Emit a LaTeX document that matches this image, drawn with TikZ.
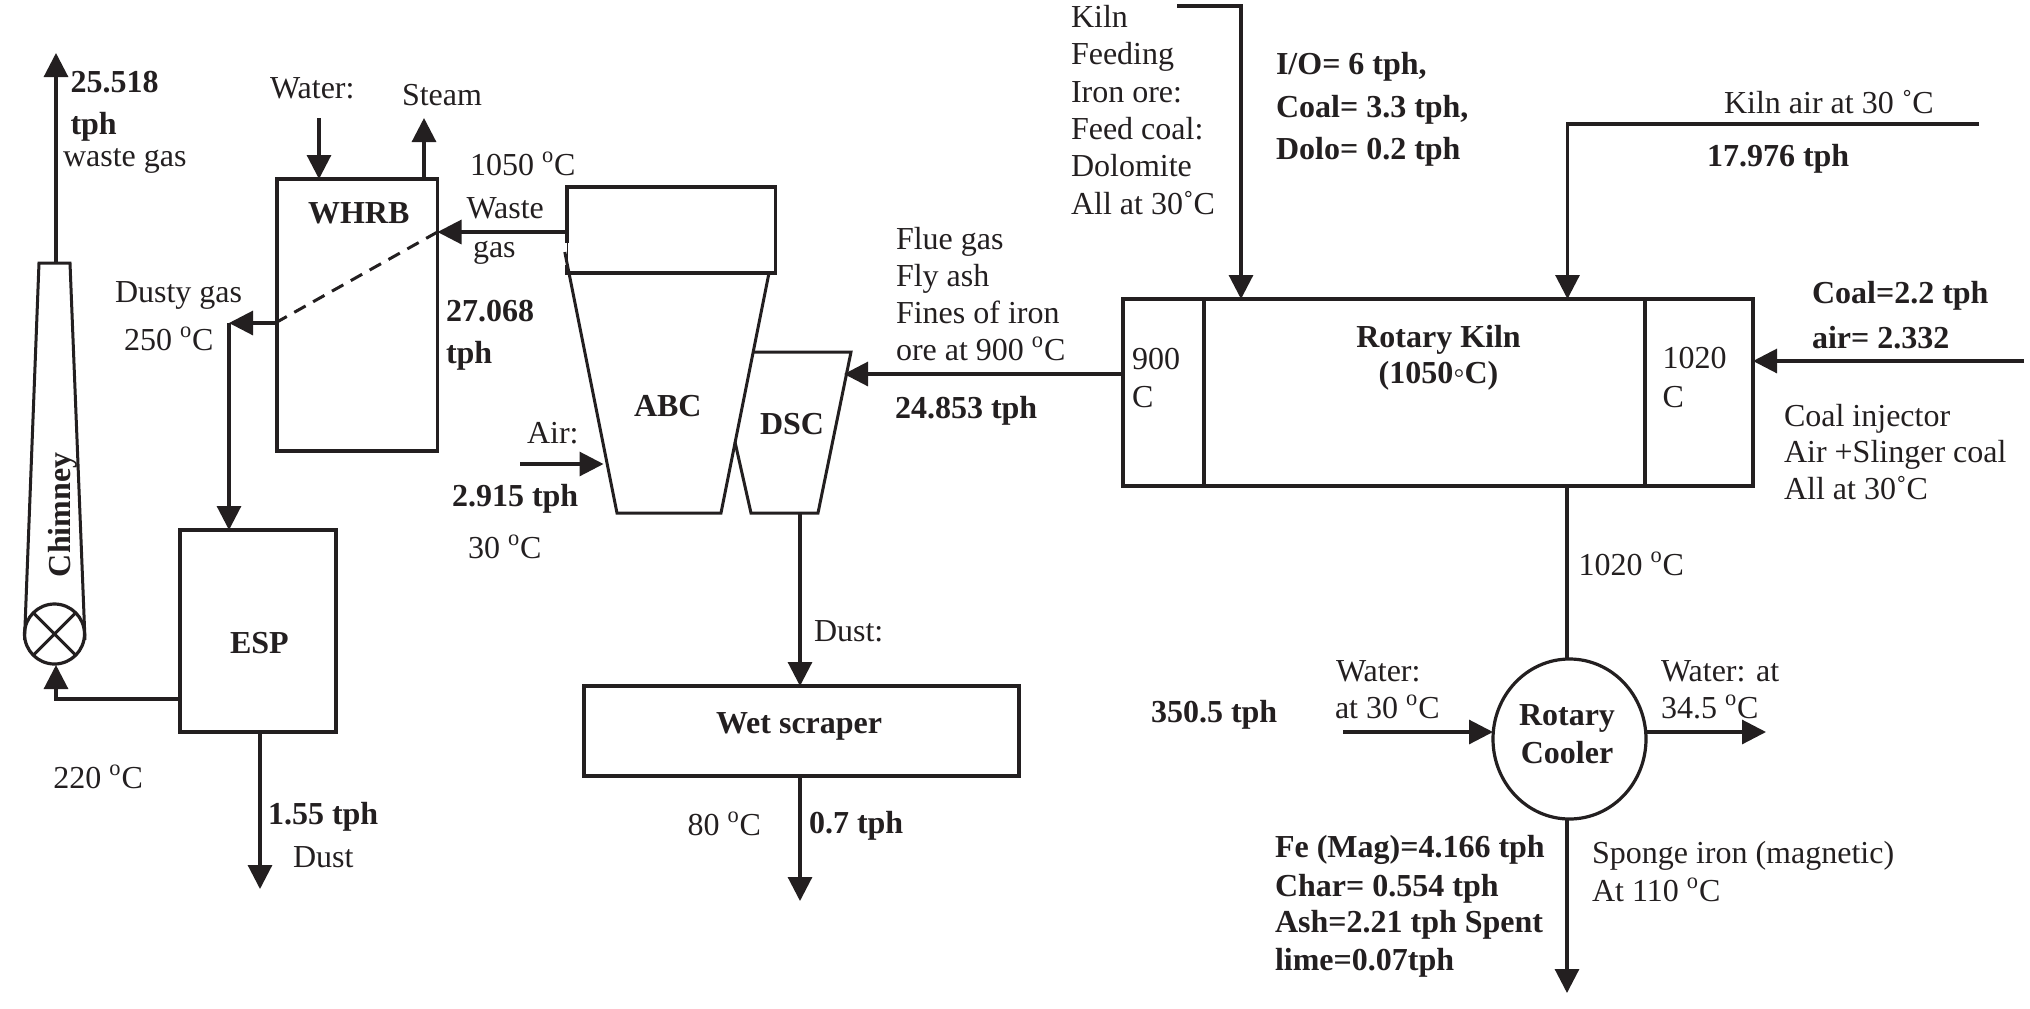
\documentclass[tikz,border=0pt]{standalone}
\usepackage{fontspec}
\setmainfont{Liberation Serif}
\usetikzlibrary{arrows.meta,shapes.geometric,calc}
\definecolor{ink}{HTML}{231F20}
\newcommand{\dg}{\textsuperscript{o}}
\tikzset{
  txt/.style={anchor=base west,inner sep=0pt,outer sep=0pt,text=ink,font=\fontsize{16}{19}\selectfont},
  btxt/.style={anchor=base west,inner sep=0pt,outer sep=0pt,text=ink,font=\fontsize{16}{19}\selectfont\bfseries},
  ctr/.style={btxt,anchor=base},
  unit/.style={draw=ink,line width=1.6pt,inner sep=0pt,outer sep=0pt,rectangle},
  shell/.style={draw=ink,line width=1.5pt,line join=miter},
  pipe/.style={draw=ink,line width=1.55pt},
  flow/.style={pipe,-{Triangle[length=12pt,width=12pt]}},
}
\begin{document}
\begin{tikzpicture}[x=0.5pt,y=-0.5pt]
\useasboundingbox (0,0) rectangle (2030,1008);
\fill[white] (0,0) rectangle (2030,1008);
% equipment
\node[unit,minimum width=80.25pt,minimum height=136pt] (whrb) at (357.25,315) {};
\node[unit,minimum width=78pt,minimum height=101pt] (esp) at (258,631) {};
\node[unit,minimum width=217.5pt,minimum height=45pt] (scraper) at (801.5,731) {};
\node[unit,minimum width=315pt,minimum height=93.5pt] (kiln) at (1438,392.5) {};
\node[unit,minimum width=104.25pt,minimum height=43pt] (hood) at (671.25,230) {};
\fill[white] (564.5,243) rectangle (570,265);
\draw[draw=ink,line width=0.4pt] (567.5,243) -- (567.5,265);
\node[draw=ink,line width=1.6pt,ellipse,inner sep=0pt,outer sep=0pt,minimum width=76.5pt,minimum height=80pt] (cooler) at (1569.5,739) {};
\node[draw=ink,line width=1.6pt,circle,inner sep=0pt,outer sep=0pt,minimum size=30pt] (fan) at (54.5,634) {};
\draw[pipe] (fan.45) -- (fan.225) (fan.135) -- (fan.315);
% kiln inner walls
\coordinate (wallL) at (1204,392);
\coordinate (wallR) at (1645,392);
\draw[pipe] (kiln.north -| wallL) -- (kiln.south -| wallL);
\draw[pipe] (kiln.north -| wallR) -- (kiln.south -| wallR);
% chimney
\coordinate (chTL) at (39,263);
\coordinate (chTR) at (70,263);
\coordinate (chBL) at (24.5,640);
\coordinate (chBR) at (85,640);
\draw[shell] (chBL) -- (chTL) -- (chTR) -- (chBR);
% ABC and DSC
\coordinate (abcTL) at (564.8,252);
\coordinate (abcTR) at (769,273);
\coordinate (abcBR) at (721,513);
\coordinate (abcBL) at (617,513);
\draw[shell] (abcTL) -- (abcBL) -- (abcBR) -- (abcTR);
\coordinate (dscTL) at (753.6,352);
\coordinate (dscTR) at (851,352);
\coordinate (dscBR) at (818,513);
\coordinate (dscBL) at (751,513);
\coordinate (dscWL) at (735,442);
\draw[shell] (dscTL) -- (dscTR) -- (dscBR) -- (dscBL) -- (dscWL);
% free ends
\coordinate (stackTop) at (56,53);
\coordinate (stackBase) at (56,263);
\coordinate (fanIn) at (56,665);
\coordinate (espOut) at (56,699);
\coordinate (espOutR) at (180,699);
\coordinate (dustEnd) at (260,889);
\coordinate (waterS) at (319,118);
\coordinate (steamE) at (424,118);
\coordinate (wasteS) at (567,232);
\coordinate (wasteE) at (437.5,232);
\coordinate (dashE) at (277,322);
\coordinate (dustyS) at (277,323);
\coordinate (dustyE) at (229,323);
\coordinate (airS) at (520,464);
\coordinate (airE) at (603.5,464);
\coordinate (flueS) at (1123,374);
\coordinate (flueE) at (844,374);
\coordinate (feedS) at (1177,6);
\coordinate (feedC) at (1241,6);
\coordinate (kairS) at (1979,124);
\coordinate (kairC) at (1567.5,124);
\coordinate (coalS) at (2024,361);
\coordinate (coalE) at (1753,361);
\coordinate (cwaterS) at (1343,732);
\coordinate (cwaterI) at (1493,732);
\coordinate (cwaterO) at (1646,732);
\coordinate (cwaterE) at (1766,732);
\coordinate (spongeE) at (1567,993);
\coordinate (dscOut) at (800,513);
\coordinate (scrapEnd) at (800,901);
% connectors
\draw[flow] (stackBase) -- (stackTop);
\draw[flow] (espOutR) -- (espOut) -- (fanIn);
\draw[flow] (esp.south -| dustEnd) -- (dustEnd);
\draw[flow] (waterS) -- (whrb.north -| waterS);
\draw[flow] (whrb.north -| steamE) -- (steamE);
\draw[flow] (wasteS) -- (wasteE);
\draw[draw=ink,line width=1.5pt,dash pattern=on 6.5pt off 4.3pt] (wasteE) -- (dashE);
\draw[flow] (dustyS) -- (dustyE);
\draw[flow] (dustyE) -- (esp.north -| dustyE);
\draw[flow] (airS) -- (airE);
\draw[flow] (flueS) -- (flueE);
\draw[flow] (feedS) -- (feedC) -- (kiln.north -| feedC);
\draw[flow] (kairS) -- (kairC) -- (kiln.north -| kairC);
\draw[flow] (coalS) -- (coalE);
\draw[pipe] (kiln.south -| spongeE) -- (cooler.north -| spongeE);
\draw[flow] (cwaterS) -- (cwaterI);
\draw[flow] (cwaterO) -- (cwaterE);
\draw[flow] (cooler.south -| spongeE) -- (spongeE);
\draw[flow] (dscOut) -- (scraper.north -| dscOut);
\draw[flow] (scraper.south -| scrapEnd) -- (scrapEnd);
% left part labels
\node[btxt] (t1) at (70.5,92) {25.518};
\node[btxt] (t2) at (70.5,134) {tph};
\node[txt] (t3) at (63,166) {waste gas};
\node[txt] (t4) at (270,98) {Water:};
\node[txt] (t5) at (402,105) {Steam};
\node[txt] (t6) at (470,175) {1050 \dg C};
\node[txt] (t7) at (466.5,218) {Waste};
\node[txt] (t8) at (473,257) {gas};
\node[txt] (t9) at (115,302) {Dusty gas};
\node[txt] (t10) at (124,350) {250 \dg C};
\node[btxt] (t11) at (446,321) {27.068};
\node[btxt] (t12) at (446,363) {tph};
\node[btxt] (t13) at (308,223) {WHRB};
\node[txt] (t14) at (527,443) {Air:};
\node[btxt] (t15) at (452,506) {2.915 tph};
\node[txt] (t16) at (468,558) {30 \dg C};
\node[btxt,rotate=90] (t17) at (70,577) {Chimney};
\node[btxt] (t18) at (230,653) {ESP};
\node[txt] (t19) at (53.5,788) {220 \dg C};
\node[btxt] (t20) at (268,824) {1.55 tph};
\node[txt] (t21) at (293,867) {Dust};
\node[txt] (t22) at (687.5,835) {80 \dg C};
\node[btxt] (t23) at (809,833) {0.7 tph};
\node[txt] (t24) at (814,641) {Dust:};
\node[btxt] (t25) at (716,733) {Wet scraper};
\node[btxt] (t26) at (634,416) {ABC};
\node[btxt] (t27) at (760,434) {DSC};
% flue gas
\node[txt] (t28) at (896,249) {Flue gas};
\node[txt] (t29) at (896,286) {Fly ash};
\node[txt] (t30) at (896,323) {Fines of iron};
\node[txt] (t31) at (896,360) {ore at 900 \dg C};
\node[btxt] (t32) at (895,418) {24.853 tph};
\node[txt] (t33) at (1132,369) {900};
\node[txt] (t34) at (1132,407) {C};
% kiln feed
\node[txt] (t35) at (1071,27) {Kiln};
\node[txt] (t36) at (1071,64) {Feeding};
\node[txt] (t37) at (1071,102) {Iron ore:};
\node[txt] (t38) at (1071,139) {Feed coal:};
\node[txt] (t39) at (1071,176) {Dolomite};
\node[txt] (t40) at (1071,214) {All at 30˚C};
\node[btxt] (t41) at (1276,74) {I/O= 6 tph,};
\node[btxt] (t42) at (1276,117) {Coal= 3.3 tph,};
\node[btxt] (t43) at (1276,159) {Dolo= 0.2 tph};
\node[txt] (t44) at (1724,113) {Kiln air at 30 ˚C};
\node[btxt] (t45) at (1707,166) {17.976 tph};
\node[btxt] (t46) at (1812,303) {Coal=2.2 tph};
\node[btxt] (t47) at (1812,348) {air= 2.332};
\node[txt] (t48) at (1784,426) {Coal injector};
\node[txt] (t49) at (1784,462) {Air +Slinger coal};
\node[txt] (t50) at (1784,499) {All at 30˚C};
\node[txt] (t51) at (1662.5,368) {1020};
\node[txt] (t52) at (1662.5,407) {C};
\node[ctr] (t53) at (1438.5,347) {Rotary Kiln};
\node[ctr] (t54) at (1438.5,383) {(1050◦C)};
% cooler
\node[txt] (t55) at (1578.5,575) {1020 \dg C};
\node[btxt] (t56) at (1151,722) {350.5 tph};
\node[txt] (t57) at (1336,681) {Water:};
\node[txt] (t58) at (1335,718) {at 30 \dg C};
\node[txt] (t59) at (1661,681) {Water: at};
\node[txt] (t60) at (1661,718) {34.5 \dg C};
\node[ctr] (t61) at (1567,725) {Rotary};
\node[ctr] (t62) at (1567,763) {Cooler};
\node[btxt] (t63) at (1275,857) {Fe (Mag)=4.166 tph};
\node[btxt] (t64) at (1275,896) {Char= 0.554 tph};
\node[btxt] (t65) at (1275,932) {Ash=2.21 tph Spent};
\node[btxt] (t66) at (1275,970) {lime=0.07tph};
\node[txt] (t67) at (1592,863) {Sponge iron (magnetic)};
\node[txt] (t68) at (1592,901) {At 110 \dg C};
\end{tikzpicture}
\end{document}
